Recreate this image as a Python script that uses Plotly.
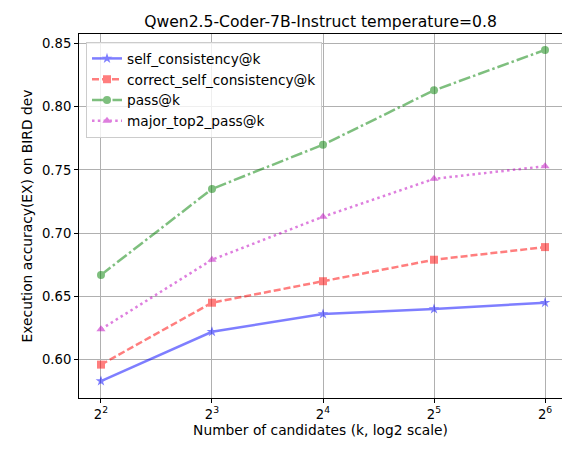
import numpy as np
import plotly.graph_objects as go

# candidates k (powers of two) and accuracy on BIRD dev
k_values = [4, 8, 16, 32, 64]
k_labels = ['2<sup>2</sup>', '2<sup>3</sup>', '2<sup>4</sup>', '2<sup>5</sup>', '2<sup>6</sup>']

self_consistency = [0.583, 0.622, 0.636, 0.640, 0.645]
correct_self_consistency = [0.596, 0.645, 0.662, 0.679, 0.689]
pass_at_k = [0.667, 0.735, 0.770, 0.813, 0.845]
major_top2_pass = [0.624, 0.679, 0.713, 0.743, 0.753]

y_ticks = [0.60, 0.65, 0.70, 0.75, 0.80, 0.85]

series = [
    ('self_consistency@k', self_consistency, '#0000ff', 'solid', 'star'),
    ('correct_self_consistency@k', correct_self_consistency, '#ff0000', '7px,3px', 'square'),
    ('pass@k', pass_at_k, '#008000', '12px,3px,2.5px,3px', 'circle'),
    ('major_top2_pass@k', major_top2_pass, '#bf00bf', '2.5px,3.3px', 'triangle-up'),
]

font_family = 'DejaVu Sans'
tick_size = 13.2
label_size = 13.8

fig = go.Figure()
for name, values, color, dash, symbol in series:
    fig.add_trace(go.Scatter(
        x=k_values, y=values, name=name, mode='lines+markers',
        line=dict(color=color, width=2.5, dash=dash),
        marker=dict(symbol=symbol, size=8, color=color),
        opacity=0.5,
    ))

fig.update_layout(
    width=562, height=451,
    margin=dict(l=79, r=0, t=34, b=53),
    paper_bgcolor='white', plot_bgcolor='white',
    font=dict(family=font_family, size=tick_size, color='black'),
    title=dict(text='Qwen2.5-Coder-7B-Instruct temperature=0.8',
               x=(79 + 562) / 2 / 562, xanchor='center',
               y=1 - 22 / 451, yanchor='middle',
               font=dict(size=15.6)),
    legend=dict(x=0.0145, y=0.978, xanchor='left', yanchor='top',
                bgcolor='rgba(255,255,255,0.8)', bordercolor='#cccccc', borderwidth=1,
                font=dict(size=13.7), tracegroupgap=0, itemwidth=30),
    showlegend=True,
)

fig.update_xaxes(
    type='log',
    range=[np.log10(2 ** 1.802), np.log10(2 ** 6.153)],
    tickvals=k_values, ticktext=k_labels,
    tickfont=dict(size=tick_size),
    title=dict(text='Number of candidates (k, log2 scale)', standoff=4,
               font=dict(size=label_size)),
    automargin=False,
    showgrid=True, gridcolor='#b0b0b0', gridwidth=1,
    showline=True, linecolor='black', linewidth=1, mirror=True,
    ticks='outside', ticklen=4, tickcolor='black',
    zeroline=False,
)
fig.update_yaxes(
    range=[0.5696, 0.8576],
    tickvals=y_ticks, ticktext=[f'{v:.2f}' for v in y_ticks],
    tickfont=dict(size=tick_size),
    title=dict(text='Execution accuracy(EX) on BIRD dev', standoff=6,
               font=dict(size=label_size)),
    automargin=False,
    showgrid=True, gridcolor='#b0b0b0', gridwidth=1,
    showline=True, linecolor='black', linewidth=1,
    ticks='outside', ticklen=4, tickcolor='black',
    zeroline=False,
)

# drop the browser's default page margin so the figure sits at the top-left corner
fig.write_html('out.html', config={'displayModeBar': False},
               post_script="document.body.style.margin='0px';")
